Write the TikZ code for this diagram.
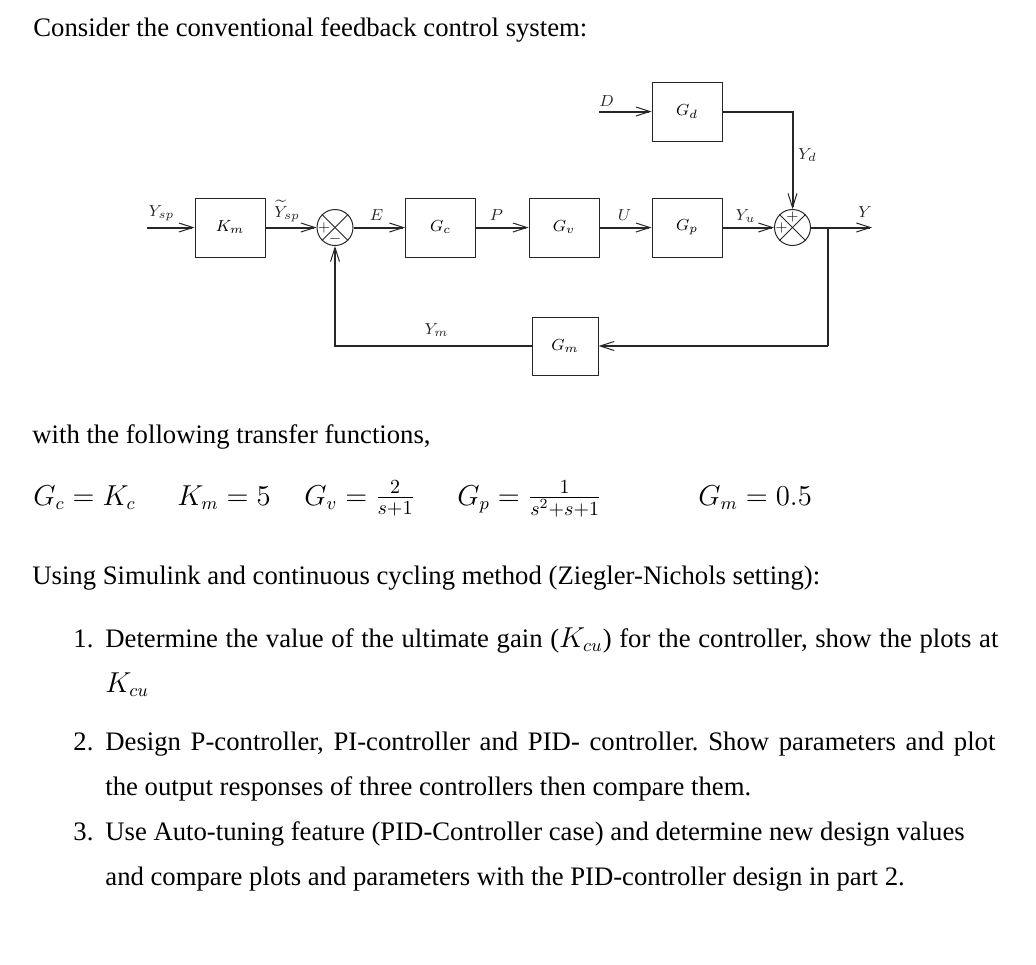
\documentclass[tikz,border=0pt]{standalone}
\usepackage{fontspec}
\setmainfont{Liberation Serif}
\usetikzlibrary{arrows.meta}
\newcommand\dgm{\fontsize{8.5}{10}\selectfont}
\newcommand\mainf{\fontsize{13.35}{16}\selectfont}
\newcommand\fsm[1]{\mbox{\fontsize{10}{12}\selectfont$#1$}}
\newcommand\ffr[2]{{\textstyle\frac{\fsm{#1}}{\fsm{#2}}}}
\frenchspacing
\begin{document}
\begin{tikzpicture}[x=0.5pt,y=-0.5pt,
  blk/.style={draw=black!85,line width=0.5pt,minimum width=35pt,minimum height=29.5pt,inner sep=0pt,font=\dgm},
  sumj/.style={draw=black!85,line width=0.5pt,circle,minimum size=18pt,inner sep=0pt},
  sig/.style={line width=1pt,draw=black!85,-{Straight Barb[length=7pt,width=4.5pt,line width=0.5pt]}},
  ln/.style={line width=1pt,draw=black!85},
  xl/.style={line width=0.5pt,draw=black!85},
  lab/.style={font=\dgm,inner sep=0pt,text=black!85},
  sgn/.style={font=\fontsize{7}{8}\selectfont,inner sep=0pt,text=black!85},
  txt/.style={anchor=base west,inner sep=0pt,font=\mainf}]
\useasboundingbox (0,0) rectangle (1036,964);
% blocks
\node[blk] (km) at (230,227.5) {$K_m$};
\node[blk] (gc) at (440.5,227.5) {$G_c$};
\node[blk] (gv) at (564,227.5) {$G_v$};
\node[blk] (gp) at (687,227.5) {$G_p$};
\node[blk] (gd) at (687,111.5) {$G_d$};
\node[blk,minimum width=33pt,minimum height=29pt] (gm) at (565,346) {$G_m$};
% summing junctions
\node[sumj] (s1) at (335,227.5) {};
\draw[xl] (s1.north west) -- (s1.south east);
\draw[xl] (s1.north east) -- (s1.south west);
\node[sgn] (s1a) at ([xshift=-5.5pt]s1.center) {$+$};
\node[sgn] (s1b) at ([yshift=-5.5pt]s1.center) {$-$};
\node[sumj] (s2) at (792.5,227.5) {};
\draw[xl] (s2.north west) -- (s2.south east);
\draw[xl] (s2.north east) -- (s2.south west);
\node[sgn] (s2a) at ([xshift=-5.5pt]s2.center) {$+$};
\node[sgn] (s2b) at ([yshift=5.5pt]s2.center) {$+$};
% coordinates
\coordinate (ysin) at (147,227.5);
\coordinate (yout) at (872,227.5);
\coordinate (din) at (599,111.5);
\coordinate (br) at (828,227.5);
\coordinate (fbr) at (828,346);
\coordinate (fbl) at (335,346);
% connectors
\draw[sig] (ysin) -- (km.west);
\draw[sig] (km.east) -- (s1.west);
\draw[sig] (s1.east) -- (gc.west);
\draw[sig] (gc.east) -- (gv.west);
\draw[sig] (gv.east) -- (gp.west);
\draw[sig] (gp.east) -- (s2.west);
\draw[sig] (s2.east) -- (yout);
\draw[sig] (din) -- (gd.west);
\draw[sig] (gd.east) -| (s2.north);
\draw[ln] (br) -- (fbr);
\draw[sig] (fbr) -- (gm.east);
\draw[sig] (gm.west) -- (fbl) -- (s1.south);
% signal labels
\node[lab] (lysp) at (161.5,213.5) {$Y_{sp}$};
\node[lab] (lyspt) at (287,211) {$\widetilde{Y}_{sp}$};
\node[lab] (le) at (376.5,215) {$E$};
\node[lab] (lp) at (496.5,215) {$P$};
\node[lab] (lu) at (624.5,215) {$U$};
\node[lab] (lyu) at (745.5,216) {$Y_u$};
\node[lab] (ly) at (865,212) {$Y$};
\node[lab] (ld) at (606.5,101) {$D$};
\node[lab] (lyd) at (807.5,155) {$Y_d$};
\node[lab] (lym) at (436.5,330) {$Y_m$};
% text
\node[txt] (t1) at (33,36) {Consider the conventional feedback control system:};
\node[txt] (t2) at (32,443) {with the following transfer functions,};
\node[txt] (e1) at (33,505) {$G_c = K_c$};
\node[txt] (e2) at (177,505) {$K_m = 5$};
\node[txt] (e3) at (304,505) {$G_v = \ffr{2}{s{+}1}$};
\node[txt] (e4) at (457,505) {$G_p = \ffr{1}{s^2{+}s{+}1}$};
\node[txt] (e5) at (698,505) {$G_m = 0.5$};
\node[txt] (t3) at (32,584) {Using Simulink and continuous cycling method (Ziegler-Nichols setting):};
\node[txt] (n1) at (73,647) {1.};
\node[txt] (l1) at (105,647) {\hbox to 446.5pt{Determine the value of the ultimate gain ($K_{cu}$) for the controller, show the plots at}};
\node[txt] (l1b) at (105,692) {$K_{cu}$};
\node[txt] (n2) at (73,750) {2.};
\node[txt] (l2) at (105,750) {\hbox to 445pt{Design P-controller, PI-controller and PID- controller. Show parameters and plot}};
\node[txt] (l2b) at (105,795) {the output responses of three controllers then compare them.};
\node[txt] (n3) at (73,840) {3.};
\node[txt] (l3) at (105,840) {Use Auto-tuning feature (PID-Controller case) and determine new design values};
\node[txt] (l3b) at (105,885) {and compare plots and parameters with the PID-controller design in part 2.};
\end{tikzpicture}
\end{document}
